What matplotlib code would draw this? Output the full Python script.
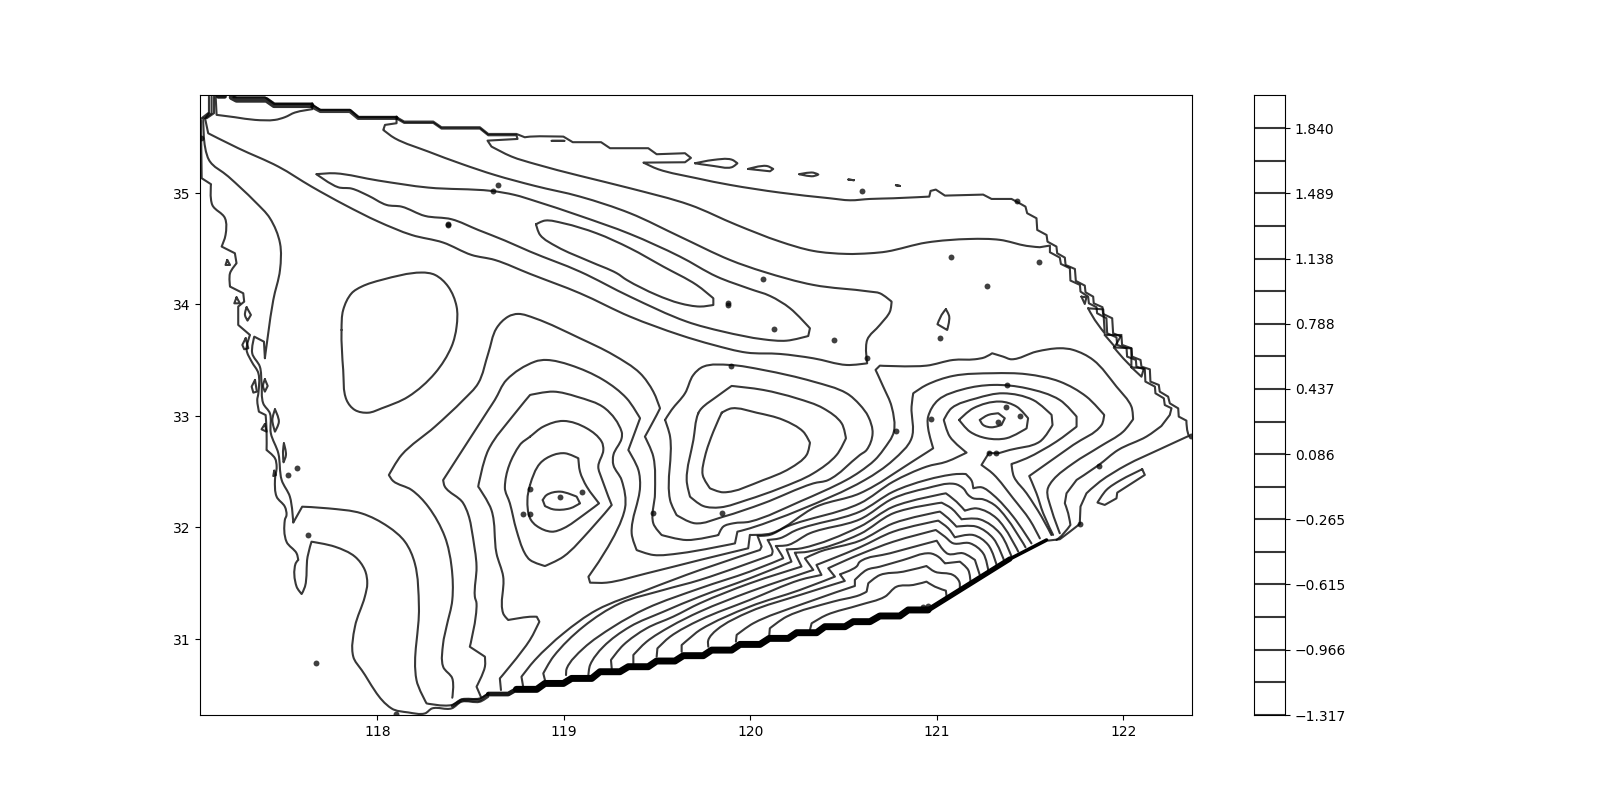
import numpy as np
import matplotlib
matplotlib.use('Agg')
import matplotlib.pyplot as plt
from matplotlib.path import Path
from matplotlib.patches import PathPatch

# contour lines, (lon, lat)
north_edge = [(117.228,35.858),(117.397,35.858),(117.447,35.798),(117.647,35.798),(117.692,35.745),(117.853,35.745),(117.898,35.679),(118.103,35.679),(118.144,35.640),(118.300,35.640),(118.344,35.589),(118.550,35.589),(118.595,35.529),(118.746,35.529),(118.791,35.499),(118.819,35.505),(118.998,35.505),(119.048,35.455),(119.200,35.455),(119.248,35.401),(119.453,35.401),(119.498,35.347),(119.650,35.356),(119.682,35.314),(119.650,35.275),(119.427,35.272),(119.507,35.212),(119.712,35.132),(119.891,35.072),(120.159,35.003),(120.427,34.952),(120.535,34.934),(120.642,34.946),(120.767,34.952),(120.960,34.967),(120.967,35.018),(120.995,35.030),(121.044,34.976),(121.249,34.985),(121.294,34.946),(121.401,34.946),(121.428,34.922),(121.476,34.877),(121.485,34.818),(121.535,34.773),(121.539,34.668),(121.589,34.623),(121.594,34.563),(121.642,34.519),(121.646,34.459),(121.687,34.420),(121.691,34.354),(121.741,34.318),(121.746,34.211),(121.794,34.169),(121.798,34.109),(121.839,34.070),(121.842,34.010),(121.889,33.975),(121.892,33.915),(121.941,33.876),(121.946,33.741),(121.991,33.711),(121.994,33.637),(122.044,33.607),(122.048,33.532),(122.093,33.502),(122.098,33.442),(122.143,33.418),(122.146,33.308),(122.191,33.278),(122.196,33.218),(122.241,33.173),(122.250,33.113),(122.295,33.068),(122.298,32.994),(122.339,32.958),(122.343,32.874),(122.352,32.821),(122.196,32.701),(122.018,32.560),(121.875,32.411),(121.803,32.306),(121.771,32.187),(121.767,32.031),(121.714,31.962),(121.660,31.894),(121.598,31.882)]
north_inner = [(118.103,35.667),(118.144,35.628),(118.300,35.628),(118.344,35.577),(118.550,35.577),(118.595,35.517),(118.746,35.517),(118.752,35.484),(118.591,35.469),(118.612,35.416),(118.720,35.326),(118.845,35.260),(119.087,35.153),(119.355,35.042),(119.677,34.892),(119.927,34.713),(120.159,34.564),(120.338,34.480),(120.517,34.453),(120.642,34.459),(120.731,34.474),(120.945,34.555),(121.178,34.587),(121.339,34.579),(121.482,34.525),(121.553,34.513),(121.607,34.528),(121.607,34.468),(121.660,34.420),(121.666,34.363),(121.714,34.324),(121.717,34.214),(121.768,34.175),(121.771,34.115),(121.812,34.070),(121.816,34.010),(121.857,33.975),(121.860,33.921),(121.910,33.876),(121.914,33.741),(121.964,33.705),(121.968,33.637),(122.018,33.607),(122.021,33.532),(122.068,33.502),(122.071,33.442),(122.116,33.418),(122.119,33.308),(122.170,33.263),(122.173,33.203),(122.218,33.158),(122.223,33.098),(122.259,33.069),(122.250,33.009),(122.205,32.910),(122.125,32.815),(121.973,32.695),(121.869,32.560),(121.750,32.426),(121.696,32.306),(121.687,32.217),(121.705,32.127),(121.717,32.022),(121.669,31.924),(121.642,31.888)]
north_loop = [(118.103,35.685),(118.103,35.625),(118.041,35.610),(118.032,35.565),(118.094,35.490),(118.273,35.371),(118.452,35.260),(118.630,35.161),(118.845,35.063),(119.087,34.967),(119.355,34.818),(119.623,34.608),(119.891,34.399),(120.070,34.294),(120.338,34.175),(120.642,34.115),(120.695,34.100),(120.758,34.025),(120.749,33.936),(120.695,33.816),(120.627,33.681),(120.627,33.472),(120.517,33.457),(120.338,33.517),(120.159,33.556),(119.981,33.568),(119.802,33.637),(119.623,33.726),(119.355,33.891),(119.087,34.100),(118.819,34.274),(118.630,34.399),(118.505,34.444),(118.353,34.555),(118.184,34.623),(118.005,34.743),(117.826,34.892),(117.647,35.057),(117.469,35.236),(117.254,35.401),(117.093,35.535),(117.076,35.670),(117.097,35.715)]
top_hook = [(117.651,35.804),(117.651,35.751),(117.558,35.721),(117.504,35.679),(117.451,35.655),(117.344,35.655),(117.236,35.679),(117.138,35.700),(117.133,35.864)]
corner_a = [(117.097,35.864),(117.097,35.721),(117.058,35.670)]
corner_b = [(117.111,35.864),(117.111,35.715),(117.076,35.670)]
corner_c = [(117.124,35.864),(117.124,35.715),(117.085,35.670)]
west_outer = [(117.054,35.655),(117.058,35.132),(117.108,35.078),(117.115,34.892),(117.183,34.773),(117.186,34.623),(117.165,34.519),(117.236,34.459),(117.245,34.369),(117.210,34.280),(117.210,34.160),(117.281,34.100),(117.286,34.025),(117.254,33.981),(117.254,33.816),(117.317,33.726),(117.299,33.592),(117.326,33.487),(117.362,33.383),(117.362,33.203),(117.356,33.143),(117.365,33.038),(117.401,33.008),(117.406,32.874),(117.406,32.694),(117.451,32.620),(117.460,32.545),(117.451,32.425),(117.460,32.276),(117.504,32.186),(117.513,32.111),(117.504,32.067),(117.513,31.872),(117.567,31.768),(117.576,31.708),(117.562,31.678),(117.567,31.469),(117.594,31.403),(117.612,31.469),(117.626,31.738),(117.647,31.872),(117.773,31.827),(117.880,31.738),(117.933,31.618),(117.946,31.498),(117.933,31.379),(117.880,31.110),(117.871,30.841),(117.916,30.721),(118.076,30.377),(118.166,30.341),(118.255,30.332),(118.294,30.377),(118.398,30.377),(118.452,30.437),(118.550,30.437),(118.595,30.482)]
west_inner = [(117.067,35.670),(117.097,35.296),(117.201,35.147),(117.344,34.922),(117.424,34.773),(117.478,34.549),(117.478,34.309),(117.442,34.040),(117.397,33.517),(117.392,33.666),(117.340,33.711),(117.329,33.562),(117.370,33.442),(117.379,33.293),(117.388,33.113),(117.424,33.023),(117.429,32.844),(117.469,32.665),(117.487,32.425),(117.531,32.276),(117.549,32.043),(117.597,32.186),(117.737,32.171),(117.916,32.126),(118.058,32.007),(118.148,31.872),(118.201,31.678),(118.223,31.289),(118.210,30.631),(118.264,30.422),(118.398,30.407),(118.452,30.458),(118.550,30.467),(118.595,30.512)]
band_m1 = [(118.402,30.473),(118.402,30.646),(118.353,30.751),(118.353,30.960),(118.371,31.110),(118.402,31.349),(118.398,31.648),(118.362,31.917),(118.273,32.186),(118.184,32.336),(118.085,32.416),(118.062,32.470),(118.130,32.650),(118.309,32.904),(118.461,33.143),(118.541,33.293),(118.595,33.562),(118.639,33.786),(118.702,33.891),(118.755,33.915),(118.845,33.876),(119.087,33.696),(119.266,33.547),(119.409,33.383),(119.480,33.218),(119.516,33.068),(119.498,33.008),(119.435,32.814),(119.480,32.635),(119.489,32.306),(119.480,32.037),(119.525,31.932),(119.659,31.887),(119.829,31.932),(119.855,32.007),(119.909,32.037),(119.998,32.052),(120.266,32.232),(120.516,32.426),(120.588,32.500),(120.668,32.605),(120.713,32.695),(120.770,32.859),(120.758,33.084),(120.713,33.263),(120.672,33.413),(120.695,33.451),(120.945,33.451),(121.088,33.502),(121.204,33.508),(121.258,33.526),(121.297,33.562),(121.356,33.532),(121.401,33.508),(121.535,33.577),(121.660,33.607),(121.732,33.592),(121.839,33.502),(121.964,33.263),(122.044,33.084),(122.053,32.970),(122.000,32.859),(121.875,32.725),(121.732,32.575),(121.624,32.426),(121.594,32.336),(121.616,32.157),(121.660,31.948)]
band_m2 = [(118.555,30.482),(118.532,30.572),(118.577,30.751),(118.577,30.841),(118.496,30.930),(118.532,31.319),(118.523,31.379),(118.532,31.648),(118.523,31.798),(118.461,32.216),(118.362,32.366),(118.353,32.425),(118.595,33.053),(118.630,33.143),(118.693,33.323),(118.845,33.487),(118.908,33.502),(119.033,33.457),(119.212,33.323),(119.337,33.158),(119.409,32.979),(119.346,32.694),(119.400,32.515),(119.409,32.366),(119.364,31.947),(119.391,31.797),(119.480,31.753),(119.623,31.768),(119.918,31.857),(119.931,31.962),(119.998,31.992),(120.266,32.157),(120.615,32.426),(120.767,32.605),(120.865,32.800),(120.865,33.084),(120.874,33.203),(120.945,33.278),(121.088,33.359),(121.303,33.383),(121.482,33.374),(121.660,33.308),(121.803,33.173),(121.898,33.009),(121.884,32.919),(121.732,32.740),(121.496,32.461),(121.535,32.306),(121.571,32.127),(121.624,31.933)]
band_m3 = [(118.663,30.542),(118.657,30.646),(118.818,30.990),(118.869,31.155),(118.855,31.199),(118.818,31.199),(118.702,31.170),(118.675,31.229),(118.675,31.558),(118.639,31.768),(118.612,32.156),(118.541,32.366),(118.595,32.694),(118.738,33.023),(118.819,33.188),(118.944,33.218),(119.069,33.173),(119.221,33.068),(119.310,32.859),(119.310,32.799),(119.266,32.650),(119.266,32.560),(119.310,32.425),(119.328,32.171),(119.132,31.558),(119.141,31.505),(119.230,31.505),(119.444,31.588),(119.730,31.708),(119.989,31.813),(119.998,31.933),(120.114,31.948),(120.355,32.187),(120.588,32.306),(120.883,32.605),(120.981,32.710),(120.954,32.889),(120.954,32.994),(121.008,33.143),(121.142,33.239),(121.303,33.278),(121.482,33.248),(121.660,33.143),(121.750,32.994),(121.750,32.904),(121.642,32.770),(121.482,32.620),(121.401,32.569),(121.414,32.455),(121.482,32.306),(121.562,32.097),(121.615,31.932)]
band_l4 = [(118.782,30.572),(118.773,30.661),(118.845,30.811),(118.998,31.050),(119.176,31.259),(119.444,31.439),(119.730,31.618),(120.052,31.798),(120.061,31.828),(120.039,31.924),(120.105,31.933),(120.195,32.007),(120.588,32.216),(120.767,32.411),(120.945,32.545),(121.053,32.590),(121.160,32.671),(121.070,32.815),(121.038,32.964),(121.079,33.069),(121.213,33.158),(121.356,33.203),(121.517,33.143),(121.616,33.009),(121.621,32.919),(121.553,32.770),(121.392,32.695),(121.321,32.665),(121.281,32.671),(121.240,32.560),(121.303,32.479),(121.410,32.261),(121.499,32.067),(121.553,31.902)]
band_p1 = [(118.899,30.631),(118.890,30.691),(118.944,30.841),(119.105,31.110),(119.301,31.319),(119.534,31.439),(119.730,31.529),(120.114,31.753),(120.120,31.783),(120.093,31.888),(120.159,31.903),(120.248,31.977),(120.588,32.142),(120.767,32.321),(120.945,32.426),(121.106,32.479),(121.156,32.479),(121.187,32.420),(121.196,32.351),(121.240,32.360),(121.303,32.291),(121.410,32.097),(121.508,31.857)]
band_p2 = [(119.012,30.676),(119.016,30.736),(119.105,30.915),(119.266,31.110),(119.444,31.274),(119.730,31.454),(119.998,31.604),(120.177,31.723),(120.168,31.753),(120.137,31.834),(120.204,31.843),(120.320,31.948),(120.588,32.073),(120.767,32.261),(120.945,32.351),(121.097,32.390),(121.142,32.351),(121.169,32.291),(121.196,32.261),(121.249,32.252),(121.321,32.186),(121.476,31.822)]
band_p3 = [(119.132,30.676),(119.141,30.766),(119.212,30.930),(119.355,31.110),(119.534,31.244),(119.730,31.380),(119.998,31.544),(120.221,31.693),(120.195,31.804),(120.275,31.813),(120.588,32.007),(120.767,32.186),(121.049,32.306),(121.106,32.231),(121.151,32.150),(121.213,32.171),(121.321,32.082),(121.437,31.783)]
band_p4 = [(119.257,30.736),(119.253,30.811),(119.319,30.945),(119.444,31.095),(119.587,31.200),(119.730,31.320),(119.998,31.499),(120.275,31.649),(120.239,31.774),(120.311,31.783),(120.588,31.941),(120.767,32.127),(121.026,32.222),(121.079,32.171),(121.133,32.073),(121.231,32.073),(121.339,31.947),(121.401,31.738)]
band_p5 = [(119.373,30.781),(119.373,30.856),(119.444,30.975),(119.570,31.110),(119.730,31.245),(119.998,31.424),(120.338,31.619),(120.293,31.723),(120.373,31.783),(120.588,31.881),(120.767,32.037),(121.017,32.142),(121.062,32.082),(121.106,32.007),(121.213,32.007),(121.303,31.902),(121.360,31.708)]
band_p6 = [(119.498,30.841),(119.502,30.915),(119.570,31.020),(119.730,31.170),(119.998,31.350),(120.266,31.529),(120.382,31.574),(120.355,31.664),(120.445,31.723),(120.588,31.822),(120.767,31.962),(121.008,32.061),(121.062,31.992),(121.097,31.911),(121.196,31.932),(121.276,31.843),(121.321,31.663)]
band_p7 = [(119.632,30.885),(119.632,30.945),(119.695,31.035),(119.730,31.080),(119.998,31.290),(120.266,31.439),(120.454,31.559),(120.418,31.634),(120.516,31.708),(120.588,31.759),(120.767,31.872),(120.995,31.977),(121.044,31.917),(121.088,31.858),(121.178,31.858),(121.249,31.768),(121.276,31.618)]
band_p8 = [(119.775,30.930),(119.775,30.990),(119.819,31.080),(119.998,31.245),(120.266,31.394),(120.507,31.520),(120.481,31.580),(120.570,31.649),(120.588,31.693),(120.749,31.768),(121.000,31.881),(121.035,31.798),(121.062,31.762),(121.142,31.768),(121.205,31.708),(121.231,31.573)]
band_p9 = [(119.923,30.976),(119.927,31.036),(120.016,31.140),(120.266,31.305),(120.561,31.475),(120.561,31.529),(120.624,31.619),(120.695,31.648),(120.820,31.708),(120.963,31.768),(121.008,31.738),(121.044,31.678),(121.124,31.693),(121.169,31.618),(121.181,31.514)]
band_p10 = [(120.102,31.036),(120.105,31.095),(120.195,31.200),(120.445,31.335),(120.588,31.394),(120.624,31.424),(120.633,31.499),(120.695,31.573),(120.820,31.603),(120.945,31.654),(120.990,31.603),(121.088,31.573),(121.121,31.514),(121.124,31.454)]
band_p11 = [(120.320,31.081),(120.329,31.140),(120.409,31.215),(120.588,31.305),(120.722,31.379),(120.785,31.469),(120.874,31.484),(120.945,31.514),(120.990,31.469),(121.049,31.433),(121.053,31.379)]

# closed contours
north_ridge = [(117.674,35.168),(117.773,35.176),(118.005,35.111),(118.273,35.048),(118.612,35.018),(118.737,34.982),(118.845,34.928),(119.087,34.794),(119.355,34.632),(119.623,34.429),(119.820,34.250),(119.998,34.139),(120.106,34.076),(120.213,33.966),(120.320,33.786),(120.311,33.717),(120.195,33.675),(120.070,33.687),(119.855,33.756),(119.659,33.846),(119.355,34.070),(119.087,34.294),(118.819,34.474),(118.684,34.573),(118.541,34.668),(118.398,34.764),(118.255,34.794),(118.130,34.877),(118.050,34.892),(117.951,34.976),(117.862,35.039),(117.790,35.051)]
north_core = [(118.851,34.719),(118.899,34.752),(118.998,34.728),(119.176,34.638),(119.355,34.504),(119.534,34.339),(119.712,34.175),(119.802,34.055),(119.802,33.995),(119.730,33.981),(119.623,34.010),(119.498,34.085),(119.337,34.220),(119.284,34.280),(119.141,34.384),(118.962,34.519),(118.873,34.623)]
west_oval = [(117.808,33.771),(117.817,33.951),(117.862,34.100),(117.916,34.160),(118.023,34.220),(118.237,34.286),(118.309,34.265),(118.380,34.160),(118.425,33.981),(118.425,33.801),(118.398,33.622),(118.309,33.383),(118.166,33.173),(118.023,33.068),(117.951,33.029),(117.880,33.053),(117.835,33.143),(117.817,33.412)]
blob_a = [(118.887,32.246),(118.908,32.291),(118.980,32.321),(119.069,32.276),(119.087,32.216),(119.033,32.171),(118.944,32.162),(118.899,32.192)]
blob_b = [(118.819,32.381),(118.873,32.575),(118.944,32.650),(119.007,32.665),(119.078,32.620),(119.087,32.500),(119.123,32.366),(119.189,32.216),(119.105,32.111),(118.998,31.992),(118.935,31.962),(118.855,32.013),(118.819,32.082),(118.805,32.246)]
blob_c = [(118.819,32.814),(118.890,32.904),(118.998,32.955),(119.123,32.889),(119.203,32.769),(119.212,32.694),(119.185,32.545),(119.203,32.440),(119.257,32.201),(119.141,31.977),(118.998,31.738),(118.899,31.654),(118.819,31.708),(118.791,31.768),(118.746,31.977),(118.711,32.216),(118.684,32.360),(118.764,32.739)]
center_c1 = [(119.847,33.029),(119.900,33.068),(120.034,33.029),(120.177,32.964),(120.284,32.859),(120.320,32.760),(120.302,32.650),(120.213,32.530),(120.070,32.425),(119.855,32.315),(119.784,32.351),(119.745,32.470),(119.757,32.635),(119.802,32.859)]
center_c2 = [(119.721,33.023),(119.695,32.784),(119.659,32.425),(119.677,32.276),(119.748,32.192),(119.838,32.180),(119.981,32.246),(120.159,32.351),(120.338,32.485),(120.463,32.650),(120.513,32.799),(120.490,32.934),(120.392,33.068),(120.249,33.158),(120.070,33.233),(119.900,33.269),(119.820,33.173),(119.739,33.068)]
center_c3 = [(119.543,32.964),(119.570,32.814),(119.570,32.246),(119.605,32.111),(119.704,32.037),(119.855,32.096),(120.070,32.216),(120.338,32.395),(120.418,32.425),(120.588,32.650),(120.624,32.695),(120.656,32.844),(120.633,32.994),(120.588,33.099),(120.517,33.203),(120.338,33.308),(120.070,33.412),(119.891,33.457),(119.748,33.442),(119.695,33.368),(119.650,33.203),(119.578,33.054)]
east_l5 = [(121.120,32.964),(121.196,33.069),(121.339,33.129),(121.428,33.084),(121.490,32.979),(121.482,32.889),(121.374,32.800),(121.267,32.800),(121.178,32.859)]
east_l6 = [(121.231,32.964),(121.276,33.009),(121.330,33.024),(121.365,32.979),(121.347,32.919),(121.294,32.898),(121.249,32.919)]
east_sliver = [(122.102,32.522),(122.116,32.471),(121.968,32.312),(121.964,32.261),(121.901,32.202),(121.862,32.223),(121.910,32.336),(121.982,32.420)]
east_loop = [(121.049,33.957),(121.067,33.891),(121.056,33.771),(121.004,33.822),(121.026,33.906)]

# little islands
north_isl = [
    [(119.704,35.266),(119.802,35.296),(119.900,35.299),(119.931,35.266),(119.900,35.230),(119.802,35.242)],
    [(119.989,35.215),(120.088,35.242),(120.123,35.215),(120.106,35.194)],
    [(120.263,35.168),(120.338,35.182),(120.365,35.165),(120.338,35.150)],
    [(120.526,35.120),(120.556,35.114)],
    [(120.781,35.069),(120.802,35.063)],
    [(118.935,35.467),(119.003,35.467)],
]
west_isl = [
    [(117.195,34.399),(117.210,34.354),(117.186,34.354)],
    [(117.245,34.064),(117.263,34.010),(117.233,34.010)],
    [(117.299,33.975),(117.322,33.906),(117.304,33.855),(117.290,33.906)],
    [(117.294,33.697),(117.308,33.607),(117.286,33.598),(117.276,33.637)],
    [(117.344,33.323),(117.354,33.218),(117.335,33.209),(117.326,33.263)],
    [(117.397,33.329),(117.412,33.269),(117.397,33.218),(117.387,33.269)],
    [(117.397,32.928),(117.406,32.859),(117.379,32.880)],
    [(117.451,33.059),(117.472,32.949),(117.451,32.859),(117.437,32.964)],
    [(117.499,32.754),(117.510,32.650),(117.497,32.584),(117.494,32.680)],
    [(117.447,32.509),(117.456,32.470),(117.442,32.461)],
]
east_isl = [
    [(121.776,34.070),(121.803,34.064),(121.794,34.004)],
    [(121.812,33.965),(121.893,33.956),(121.901,33.741),(121.848,33.860)],
    [(121.901,33.726),(121.991,33.726),(121.955,33.621)],
    [(121.950,33.615),(122.044,33.606),(122.044,33.442),(122.000,33.517)],
    [(122.044,33.436),(122.111,33.427),(122.098,33.352)],
]

# bunched contours drawn as heavier strokes
top_thick_a = [(117.218,35.858),(117.245,35.834),(117.405,35.834),(117.446,35.786),(117.647,35.786)]
top_thick_b = [(117.651,35.775),(117.695,35.735),(117.853,35.735),(117.898,35.673),(118.103,35.673)]
top_thick_c = [(117.146,35.864),(117.182,35.864)]
south_thin = [(118.402,30.398),(118.452,30.452),(118.550,30.452),(118.595,30.506)]
south_mid = [(118.595,30.506),(118.702,30.506),(118.746,30.548)]
south_thick = [(118.746,30.548),(118.855,30.548),(118.899,30.601),(118.998,30.601),(119.042,30.646),(119.150,30.646),(119.194,30.706),(119.301,30.706),(119.346,30.751),(119.453,30.751),(119.498,30.802),(119.596,30.802),(119.641,30.850),(119.748,30.850),(119.793,30.900),(119.900,30.900),(119.945,30.951),(120.052,30.951),(120.102,31.005),(120.204,31.005),(120.249,31.056),(120.356,31.056),(120.400,31.110),(120.508,31.110),(120.552,31.155),(120.642,31.155),(120.695,31.206),(120.802,31.206),(120.847,31.260),(120.954,31.260)]
south_diag = [(120.954,31.260),(121.392,31.717)]
south_diag_end = [(121.392,31.717),(121.589,31.887)]

# stations
station_lon = [118.648,118.621,118.380,118.380,117.054,117.571,117.522,117.630,117.672,118.100,118.819,118.819,118.782,118.980,119.100,119.480,119.850,120.070,119.882,119.882,120.129,120.451,120.624,119.898,120.601,121.431,121.078,121.549,121.271,121.019,121.378,121.371,120.967,120.781,121.448,121.331,121.281,121.319,121.869,121.769,122.366,120.928,120.954]
station_lat = [35.069,35.015,34.713,34.722,35.490,32.530,32.467,31.929,30.781,30.323,32.342,32.117,32.117,32.270,32.315,32.126,32.126,34.226,34.010,33.995,33.777,33.681,33.517,33.445,35.015,34.925,34.423,34.378,34.163,33.696,33.278,33.078,32.973,32.862,32.997,32.943,32.671,32.665,32.551,32.028,32.821,31.289,31.296]

# colorbar
level_lines = [-1.317,-1.142,-0.966,-0.791,-0.615,-0.440,-0.265,-0.090,0.086,0.261,0.437,0.612,0.788,0.963,1.138,1.314,1.489,1.665,1.840]
level_ticks = [-1.317,-0.966,-0.615,-0.265,0.086,0.437,0.788,1.138,1.489,1.840]
level_top = 2.018

x_ticks = [118,119,120,121,122]
y_ticks = [31,32,33,34,35]

smooth_lines = [north_loop, top_hook, corner_a, corner_b, corner_c, west_outer, west_inner,
                band_m1, band_m2, band_m3, band_l4, band_p1, band_p2, band_p3, band_p4,
                band_p5, band_p6, band_p7, band_p8, band_p9, band_p10, band_p11]
stair_lines = [north_edge, north_inner]
closed_lines = [north_ridge, north_core, west_oval, blob_a, blob_b, blob_c,
                center_c1, center_c2, center_c3, east_l5, east_l6, east_sliver, east_loop]
closed_lines += north_isl + west_isl + east_isl

X_SCALE = 186.5
Y_SCALE = 111.5


def curve_path(pts, closed, corner_deg):
    """Bezier path through the read points, sharp bends stay sharp"""
    p = np.array(pts, dtype=float)
    n = len(p)
    xy = p * [X_SCALE, Y_SCALE]
    tang = np.zeros_like(p)
    for i in range(n):
        if not closed and (i == 0 or i == n - 1):
            continue
        a = xy[i] - xy[i - 1]
        b = xy[(i + 1) % n] - xy[i]
        ca = a / np.hypot(*a)
        cb = b / np.hypot(*b)
        if np.dot(ca, cb) < np.cos(np.radians(corner_deg)):
            continue
        t = ca + cb
        tang[i] = t / np.hypot(*t)
    verts = [p[0]]
    codes = [Path.MOVETO]
    steps = n if closed else n - 1
    for i in range(steps):
        j = (i + 1) % n
        d = np.hypot(*(xy[j] - xy[i])) / 3
        verts.append(p[i] + tang[i] * d / [X_SCALE, Y_SCALE])
        verts.append(p[j] - tang[j] * d / [X_SCALE, Y_SCALE])
        verts.append(p[j])
        codes += [Path.CURVE4, Path.CURVE4, Path.CURVE4]
    return Path(verts, codes)


def draw_line(ax, pts, closed=False, lw=1.5, alpha=0.78, corner_deg=42):
    patch = PathPatch(curve_path(pts, closed, corner_deg), fc='none', ec='black', lw=lw, alpha=alpha,
                      joinstyle='round', capstyle='round')
    ax.add_patch(patch)


fig = plt.figure(figsize=(16, 8.031), dpi=100)
ax = fig.add_axes([200/1600, 88/803, 992/1600, 620/803])

for pts in smooth_lines:
    draw_line(ax, pts)
for pts in stair_lines:
    draw_line(ax, pts, corner_deg=14)
for pts in closed_lines:
    draw_line(ax, pts, closed=True)

draw_line(ax, top_thick_a, lw=4, alpha=0.82, corner_deg=0)
draw_line(ax, top_thick_b, lw=3, alpha=0.78, corner_deg=0)
draw_line(ax, top_thick_c, lw=3, alpha=0.9, corner_deg=0)
draw_line(ax, south_thin, lw=2.2, corner_deg=0)
draw_line(ax, south_mid, lw=3.4, alpha=0.9, corner_deg=0)
draw_line(ax, south_thick, lw=5, alpha=1, corner_deg=0)
draw_line(ax, south_diag, lw=3.8, alpha=1, corner_deg=0)
draw_line(ax, south_diag_end, lw=2.6, alpha=1, corner_deg=0)

ax.scatter(station_lon, station_lat, s=18, color='black', alpha=0.75, linewidths=0, zorder=3)

ax.set_xlim(117.049, 122.369)
ax.set_ylim(30.318, 35.879)
ax.set_xticks(x_ticks)
ax.set_yticks(y_ticks)

cax = fig.add_axes([1254/1600, 88/803, 31/1600, 620/803])
cax.hlines(level_lines, 0, 1, color='black', lw=1.5, alpha=0.78)
cax.set_xlim(0, 1)
cax.set_ylim(level_lines[0], level_top)
cax.set_xticks([])
cax.yaxis.tick_right()
cax.set_yticks(level_ticks)
cax.set_yticklabels(['%.3f' % v if v >= 0 else '\u2212%.3f' % abs(v) for v in level_ticks])

fig.savefig('out.png', dpi=100)
